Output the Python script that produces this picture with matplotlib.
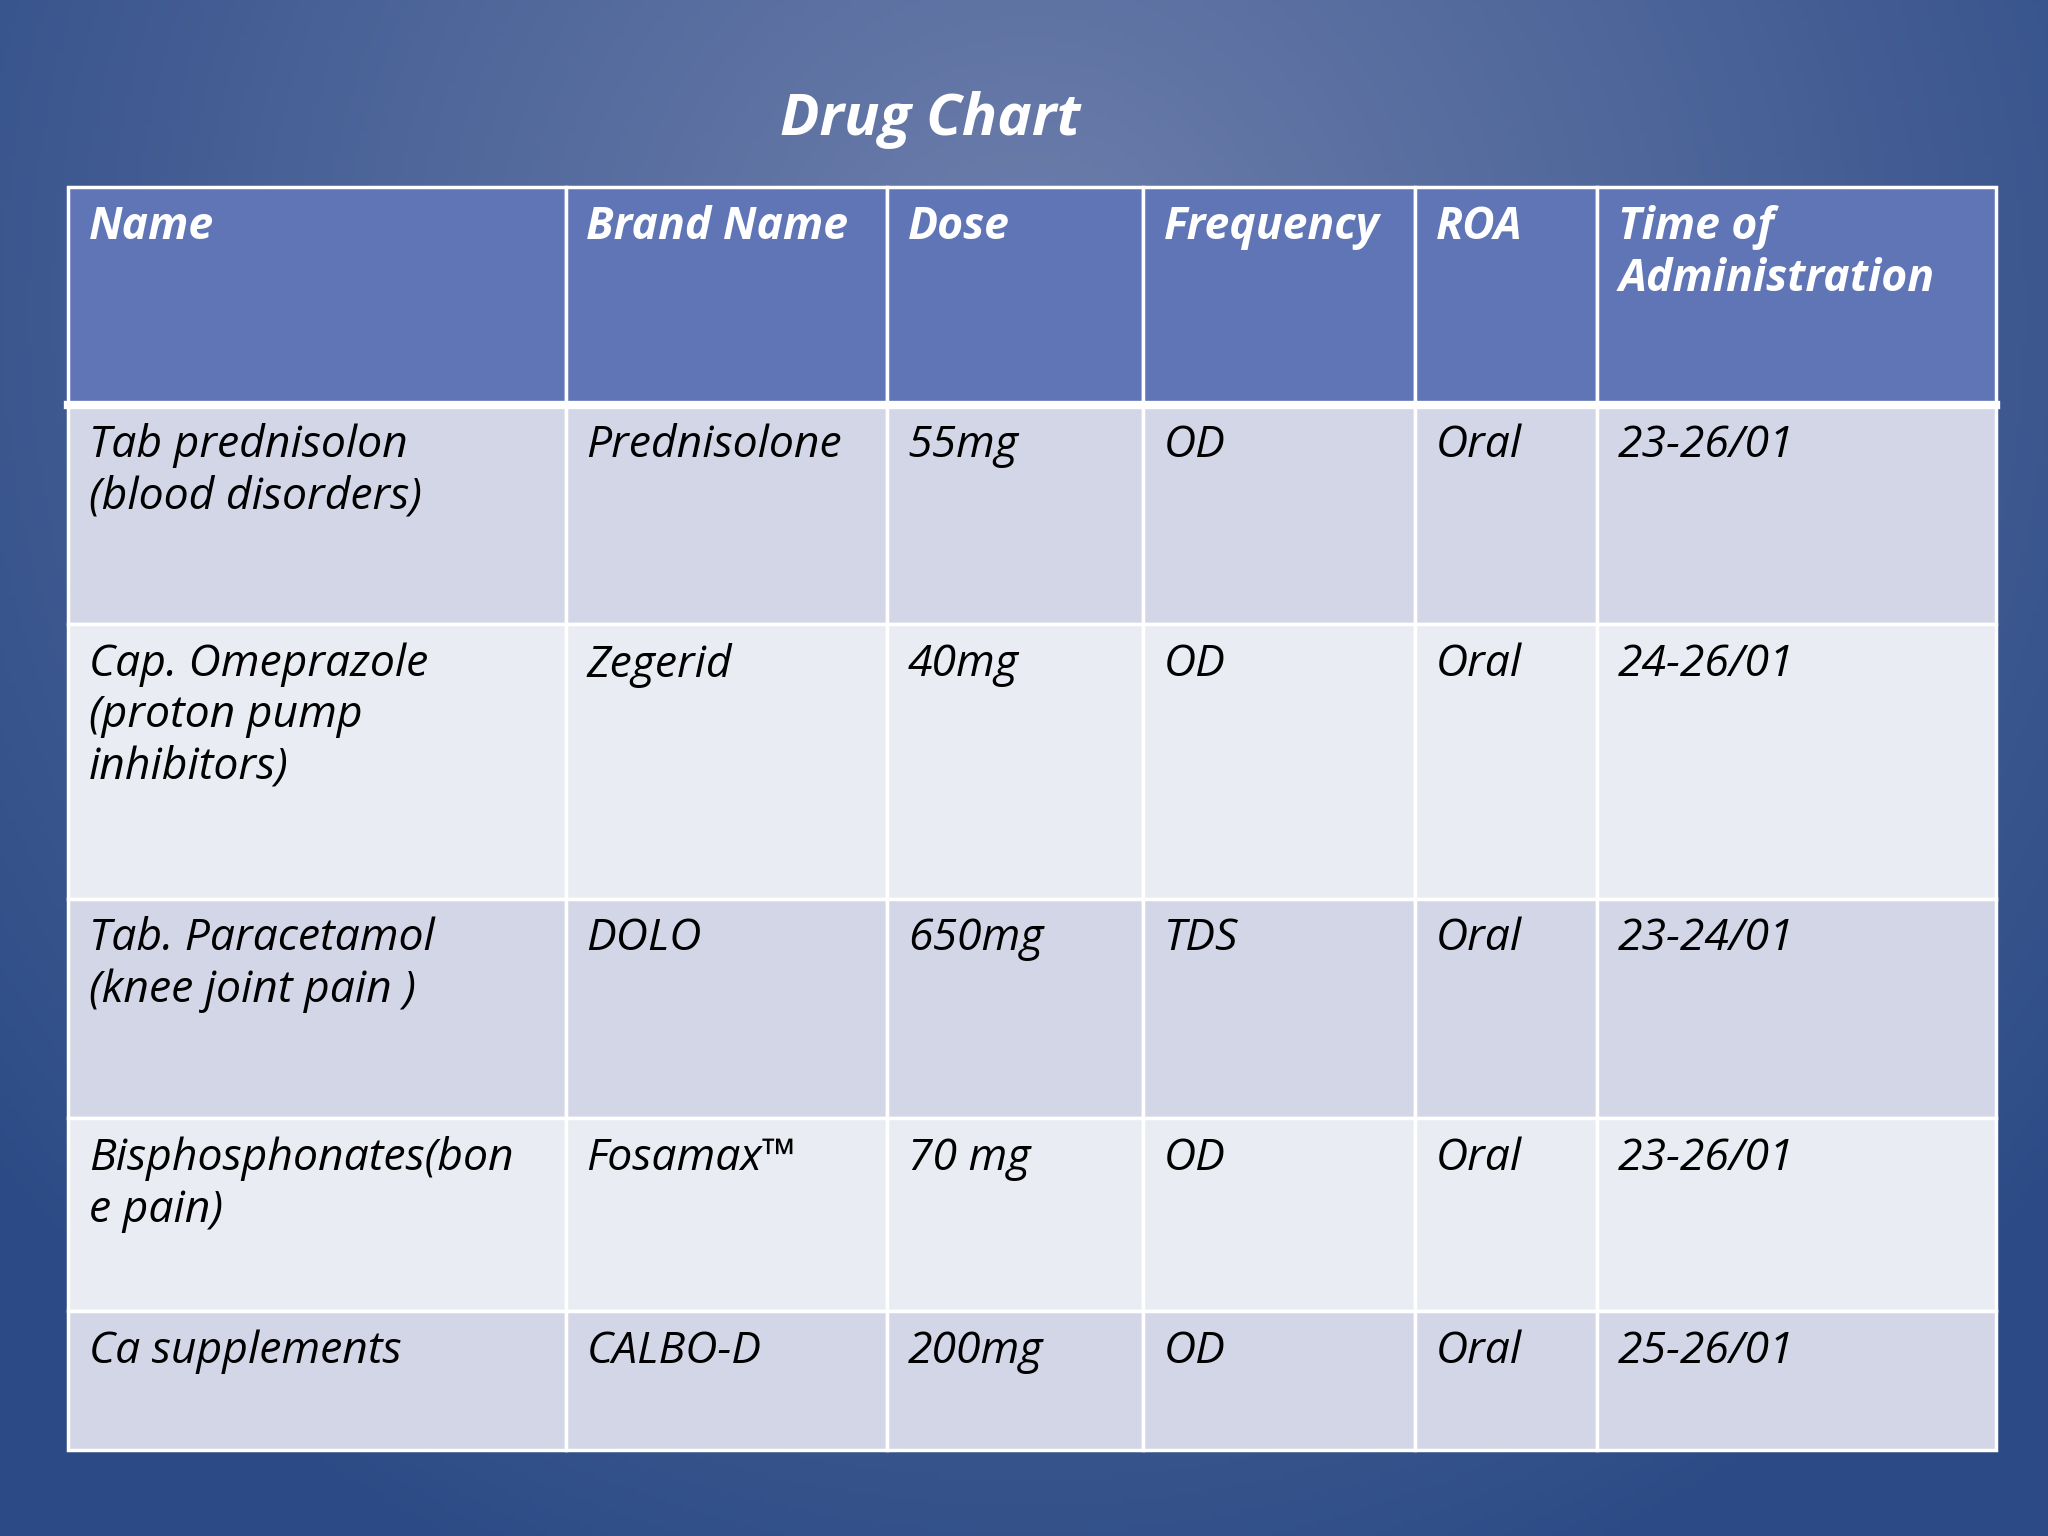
import numpy as np
import matplotlib as mpl
mpl.use('Agg')
import matplotlib.pyplot as plt
from matplotlib.patches import Rectangle

title = "Drug Chart"
headers = ["Name", "Brand Name", "Dose", "Frequency", "ROA", "Time of\nAdministration"]
names = ["Tab prednisolon\n(blood disorders)", "Cap. Omeprazole\n(proton pump\ninhibitors)",
         "Tab. Paracetamol\n(knee joint pain )", "Bisphosphonates(bon\ne pain)", "Ca supplements"]
brands = ["Prednisolone", "Zegerid", "DOLO", "Fosamax\u2122", "CALBO-D"]
doses = ["55mg", "40mg", "650mg", "70 mg", "200mg"]
freqs = ["OD", "OD", "TDS", "OD", "OD"]
roas = ["Oral", "Oral", "Oral", "Oral", "Oral"]
times = ["23-26/01", "24-26/01", "23-24/01", "23-26/01", "25-26/01"]

# layout in reference pixel units (1568 x 1176)
W, H = 1568, 1176
col_x = [52, 433, 679, 875, 1083, 1223, 1528]
row_y = [143, 310, 478, 688, 856, 1004, 1110]

fig = plt.figure(figsize=(20.48, 15.36), dpi=100)
ax = fig.add_axes([0, 0, 1, 1])
ax.set_xlim(0, W)
ax.set_ylim(H, 0)
ax.axis('off')

# radial gradient background
yy, xx = np.mgrid[0:H:4, 0:W:4]
r = np.sqrt(((xx - W * 0.5) / (W * 0.65)) ** 2 + ((yy - H * 0.2) / (H * 0.9)) ** 2)
r = np.clip(r, 0, 1)[..., None]
c0 = np.array([0x6e, 0x7f, 0xac]) / 255
c1 = np.array([0x2c, 0x4b, 0x86]) / 255
bg = c0 * (1 - r) + c1 * r
ax.imshow(bg, extent=[0, W, H, 0], aspect='auto', zorder=0)

ax.text(712, 92, title, ha='center', va='center', fontsize=42, color='white',
        fontweight='bold', style='italic', family='Open Sans', zorder=5)

rows = list(zip(names, brands, doses, freqs, roas, times))
fills = ['#d3d6e6', '#e9ecf3']
for i in range(len(rows) + 1):
    y0, y1 = row_y[i], row_y[i + 1]
    fc = '#6075b5' if i == 0 else fills[(i - 1) % 2]
    for j in range(6):
        ax.add_patch(Rectangle((col_x[j], y0), col_x[j + 1] - col_x[j], y1 - y0,
                               facecolor=fc, edgecolor='white', lw=2.5, zorder=2))
        if i == 0:
            txt, col, wt = headers[j], 'white', 'bold'
        else:
            txt, col, wt = rows[i - 1][j], 'black', 'normal'
        ax.text(col_x[j] + 16, y0 + 14, txt, ha='left', va='top', fontsize=32,
                color=col, fontweight=wt, style='italic', family='Open Sans',
                linespacing=1.2, zorder=5)
ax.plot([col_x[0], col_x[-1]], [row_y[1], row_y[1]], color='white', lw=6, zorder=3)

fig.savefig('out.png', dpi=100)
